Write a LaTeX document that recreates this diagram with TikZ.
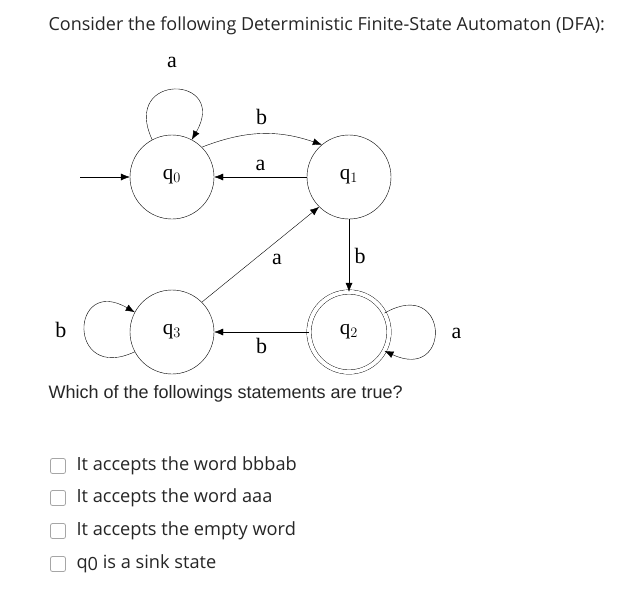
\documentclass[tikz,border=0pt]{standalone}
\usepackage{fontspec}
\setmainfont{Liberation Serif}
\newfontfamily\opensans{Open Sans}
\newfontfamily\arial{Liberation Sans}
\usetikzlibrary{arrows.meta}
\begin{document}
\begin{tikzpicture}[x=1pt,y=-1pt,
  st/.style={circle,draw,minimum size=84pt,inner sep=0pt,font=\fontsize{21}{21}\selectfont},
  acc/.style={st,double=white,double distance=4pt,minimum size=80pt},
  tr/.style={-{Latex[length=9pt,width=7pt]},thin},
  lab/.style={font=\fontsize{22}{22}\selectfont},
  box/.style={draw=gray!70,rounded corners=2pt,minimum size=15pt,inner sep=0pt,line width=0.8pt},
  item/.style={anchor=west,font=\opensans\fontsize{18.2}{18}\selectfont,text=black!85}]
\useasboundingbox (0,0) rectangle (631,597);
\fill[white] (0,0) rectangle (631,597);
\node[anchor=west,font=\opensans\fontsize{18}{18}\selectfont,text=black!85] (title) at (45,26) {Consider the following Deterministic Finite-State Automaton (DFA):};
\node[st] (q0) at (172,177) {q$_0$};
\node[st] (q1) at (349,177) {q$_1$};
\node[st] (q3) at (172,332) {q$_3$};
\node[acc] (q2) at (349,332) {q$_2$};
\coordinate (start) at (80,177);
\draw[tr] (start) -- (q0);
\draw[tr] (q0.118) .. controls +(-115:75) and +(-60:75) .. (q0.62);
\node[lab] (la0) at (172,62) {a};
\draw[tr] (q0.45) to[bend left=20] node[lab,above=6pt]{b} (q1.130);
\draw[tr] (q1) -- node[lab,above=3pt]{a} (q0);
\draw[tr] (q3.45) -- node[lab,right=14pt,pos=0.45]{a} (q1.225);
\draw[tr] (q1) -- node[lab,right=2pt]{b} (q2);
\draw[tr] (q2) -- node[lab,below=3pt]{b} (q3);
\draw[tr] (q3.208) .. controls +(-205:75) and +(-150:75) .. (q3.152);
\node[lab,anchor=east] (lb3) at (70,330) {b};
\draw[tr] (q2.28) .. controls +(-30:75) and +(25:75) .. (q2.-28);
\node[lab,anchor=west] (la2) at (448,333) {a};
\node[anchor=west,font=\arial\fontsize{18}{18}\selectfont,text=black!85] (qq) at (45,394) {Which of the followings statements are true?};
\foreach \y/\t [count=\i] in {466/It accepts the word bbbab,498/It accepts the word aaa,531/It accepts the empty word,564/{q\raisebox{-2pt}{0} is a sink state}}{
  \node[box] (b\i) at (58,\y) {};
  \node[item] (t\i) at (73,\y) {\t};
}
\end{tikzpicture}
\end{document}
